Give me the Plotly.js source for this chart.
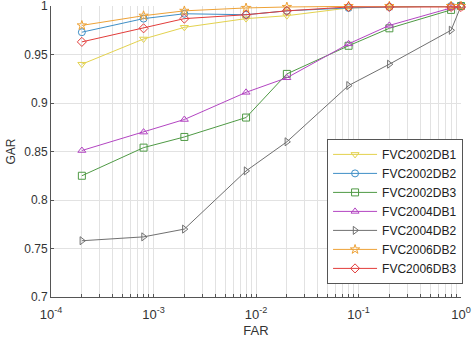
<!DOCTYPE html>
<html>
<head>
<meta charset="utf-8">
<script src="https://cdn.plot.ly/plotly-3.0.1.min.js"></script>
<style>html,body{margin:0;padding:0;background:#fff;}#chart{width:474px;height:338px;}</style>
</head>
<body>
<div id="chart"></div>
<script>
var far = [2e-4, 8e-4, 2e-3, 8e-3, 2e-2, 8e-2, 0.2, 0.8, 1];
var seriesNames = ["FVC2002DB1","FVC2002DB2","FVC2002DB3","FVC2004DB1","FVC2004DB2","FVC2006DB2","FVC2006DB3"];
var fvc2002db1 = [0.940, 0.966, 0.978, 0.987, 0.990, 0.998, 0.999, 1.000, 1.000];
var fvc2002db2 = [0.973, 0.987, 0.992, 0.991, 0.995, 0.998, 0.999, 1.000, 1.000];
var fvc2002db3 = [0.825, 0.854, 0.865, 0.885, 0.930, 0.959, 0.977, 0.996, 1.000];
var fvc2004db1 = [0.851, 0.870, 0.883, 0.911, 0.926, 0.961, 0.980, 0.998, 1.000];
var fvc2004db2 = [0.758, 0.762, 0.770, 0.830, 0.860, 0.918, 0.940, 0.975, 1.000];
var fvc2006db2 = [0.980, 0.990, 0.995, 0.998, 0.999, 1.000, 1.000, 1.000, 1.000];
var fvc2006db3 = [0.963, 0.977, 0.987, 0.991, 0.995, 0.999, 0.999, 0.999, 0.999];
var yTickVals = [0.7, 0.75, 0.8, 0.85, 0.9, 0.95, 1];
var yTickText = ["0.7", "0.75", "0.8", "0.85", "0.9", "0.95", "1"];
var decades = [-4, -3, -2, -1, 0];

var allY = [fvc2002db1, fvc2002db2, fvc2002db3, fvc2004db1, fvc2004db2, fvc2006db2, fvc2006db3];
var colors = ["#e3d24e", "#3f8fc6", "#4f9a45", "#b345c2", "#707070", "#eea236", "#e23c3a"];
var symbols = ["triangle-down-open", "circle-open", "square-open", "triangle-up-open", "triangle-right-open", "star-open", "diamond-open"];

var traces = allY.map(function (ys, i) {
  return {
    x: far, y: ys, name: seriesNames[i], type: "scatter", mode: "lines+markers",
    cliponaxis: false,
    line: {color: colors[i], width: 1},
    marker: {symbol: symbols[i], size: 7, color: colors[i], line: {width: 1, color: colors[i]}}
  };
});

var xTickVals = [], xTickText = [];
decades.forEach(function (d) {
  var base = Math.pow(10, d);
  for (var m = 1; m <= 9; m++) {
    if (d === 0 && m > 1) break;
    xTickVals.push(m * base);
    xTickText.push(m === 1 ? "10<sup>" + d + "</sup>" : "");
  }
});

var layout = {
  width: 474, height: 338,
  margin: {l: 51, r: 13, t: 6, b: 41},
  paper_bgcolor: "#fff", plot_bgcolor: "#fff",
  font: {family: "Liberation Sans, Arial, sans-serif", size: 12, color: "#333"},
  showlegend: true,
  legend: {x: 1.005, xanchor: "right", y: 0.045, yanchor: "bottom",
    bordercolor: "#555", borderwidth: 1, bgcolor: "#fff", itemwidth: 44,
    font: {size: 12, color: "#222"}, tracegroupgap: 0},
  xaxis: {type: "log", range: [-4, 0], tickvals: xTickVals, ticktext: xTickText,
    showgrid: true, gridcolor: "#e2e2e2", gridwidth: 1,
    ticks: "inside", ticklen: 3, tickcolor: "#555", ticklabelstandoff: 5,
    showline: true, linecolor: "#555", linewidth: 1, mirror: false, zeroline: false,
    tickfont: {size: 13, color: "#333"},
    title: {text: "FAR", font: {size: 13, color: "#333"}, standoff: 6}},
  yaxis: {range: [0.7, 1], tickvals: yTickVals, ticktext: yTickText,
    showgrid: true, gridcolor: "#e2e2e2", gridwidth: 1, ticklabeloverflow: "allow",
    ticks: "inside", ticklen: 3, tickcolor: "#555",
    showline: true, linecolor: "#555", linewidth: 1, mirror: false, zeroline: false,
    tickfont: {size: 12, color: "#333"},
    title: {text: "GAR", font: {size: 12, color: "#333"}, standoff: 6}}
};

Plotly.newPlot("chart", traces, layout, {displayModeBar: false, staticPlot: true});
</script>
</body>
</html>
